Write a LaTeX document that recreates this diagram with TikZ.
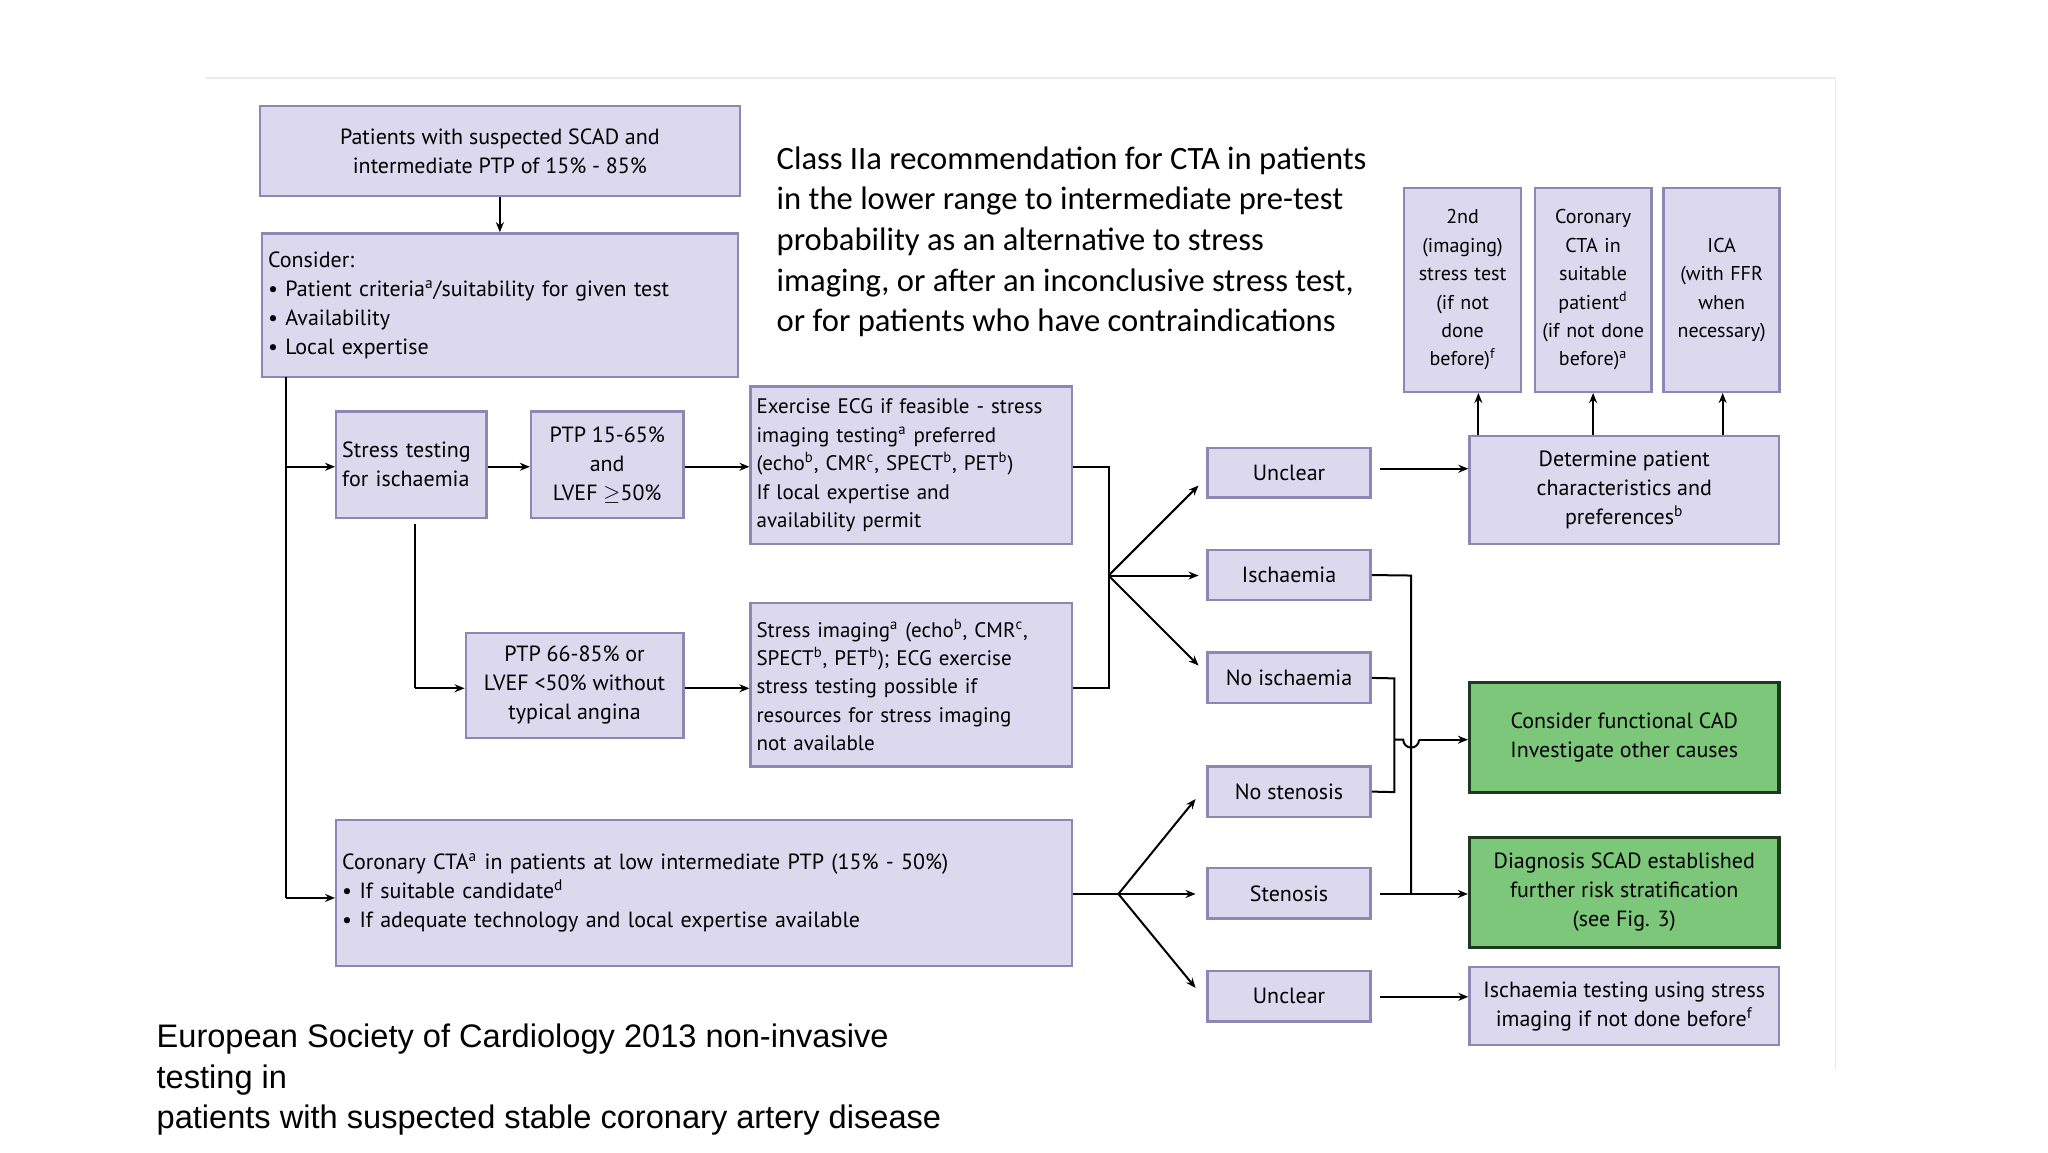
\documentclass[tikz,border=0pt]{standalone}
\usepackage{fontspec}
\setmainfont{PT Sans}
\newfontfamily\carfont{Carlito}
\newfontfamily\arifont{Liberation Sans}
\usetikzlibrary{arrows.meta}
\definecolor{boxfill}{HTML}{DCD9EE}
\definecolor{boxdraw}{HTML}{8D88B3}
\definecolor{grfill}{HTML}{7CC77A}
\definecolor{grdraw}{HTML}{1E3A1E}
\begin{document}
\begin{tikzpicture}[x=0.4945pt,y=-0.4945pt,
  box/.style={draw=boxdraw,fill=boxfill,line width=1.2pt,font=\fontsize{11}{14.5}\selectfont,align=center,inner sep=3pt},
  gbox/.style={box,fill=grfill,draw=grdraw,line width=1.6pt},
  ln/.style={line width=1pt,black},
  ar/.style={ln,-{Stealth[length=5pt,width=4pt]}}]
\useasboundingbox (0,0) rectangle (2071,1165);
\fill[white] (0,0) rectangle (2071,1165);
\draw[black!8,line width=0.8pt] (208,79) -- (1856,79) -- (1856,1082);
\newcommand\bx[7][box]{\node[#1,minimum width={(#4-#2)*0.4945pt},minimum height={(#5-#3)*0.4945pt}] (#7) at ({(#2+#4)/2},{(#3+#5)/2}) {#6};}
\newcommand\lbx[7][box]{\node[#1,align=left,text width={(#4-#2)*0.4945pt-8pt},minimum height={(#5-#3)*0.4945pt}] (#7) at ({(#2+#4)/2},{(#3+#5)/2}) {#6};}
\bx{263}{107}{748}{198}{Patients with suspected SCAD and\\intermediate PTP of 15\% - 85\%}{b1}
\lbx{263}{236}{748}{381}{Consider:\\• Patient criteria\textsuperscript{a}/suitability for given test\\• Availability\\• Local expertise}{cons}
\lbx{338}{416}{494}{524}{Stress testing\\for ischaemia\\[14pt]}{st}
\bx{537}{416}{691}{524}{PTP 15-65\%\\and\\LVEF $\geq$50\%}{p1}
\lbx[box,font=\fontsize{10.5}{14.2}\selectfont]{757}{391}{1086}{550}{Exercise ECG if feasible - stress\\imaging testing\textsuperscript{a} preferred\\(echo\textsuperscript{b}, CMR\textsuperscript{c}, SPECT\textsuperscript{b}, PET\textsuperscript{b})\\If local expertise and\\availability permit}{ex}
\bx{471}{640}{691}{746}{PTP 66-85\% or\\LVEF <50\% without\\typical angina}{p2}
\lbx[box,font=\fontsize{10.5}{14.2}\selectfont]{757}{610}{1086}{775}{Stress imaging\textsuperscript{a} (echo\textsuperscript{b}, CMR\textsuperscript{c},\\SPECT\textsuperscript{b}, PET\textsuperscript{b}); ECG exercise\\stress testing possible if\\resources for stress imaging\\not available}{si}
\lbx{338}{829}{1086}{977}{Coronary CTA\textsuperscript{a} in patients at low intermediate PTP (15\% - 50\%)\\• If suitable candidate\textsuperscript{d}\\• If adequate technology and local expertise available\\[14pt]}{cta}
\bx{1221}{453}{1386}{503}{Unclear}{u1}
\bx{1221}{556}{1386}{607}{Ischaemia}{is}
\bx{1221}{660}{1386}{711}{No ischaemia}{ni}
\bx{1221}{775}{1386}{826}{No stenosis}{ns}
\bx{1221}{878}{1386}{929}{Stenosis}{sn}
\bx{1221}{982}{1386}{1033}{Unclear}{u2}
\tikzset{tall/.style={box,font=\fontsize{10}{14.2}\selectfont,minimum height={206*0.4945pt},text width=56pt,anchor=north,inner sep=1pt}}
\node[tall,minimum width={118*0.4945pt}] (t1) at (1479,189) {2nd\\(imaging)\\stress test\\(if not\\done\\before)\textsuperscript{f}};
\node[tall,minimum width={118*0.4945pt}] (t2) at (1611,189) {Coronary\\CTA in\\suitable\\patient\textsuperscript{d}\\(if not done\\before)\textsuperscript{a}};
\node[tall,minimum width={116*0.4945pt}] (t3) at (1741,189) {ICA\\(with FFR\\when\\necessary)\\[43pt]};
\bx{1486}{441}{1799}{550}{Determine patient\\characteristics and\\preferences\textsuperscript{b}}{det}
\bx[gbox]{1486}{690}{1799}{801}{Consider functional CAD\\Investigate other causes}{cad}
\bx[gbox]{1486}{847}{1799}{958}{Diagnosis SCAD established\\further risk stratification\\(see Fig. 3)}{dia}
\bx{1486}{978}{1799}{1057}{Ischaemia testing using stress\\imaging if not done before\textsuperscript{f}}{itst}
% text
\node[anchor=north west,align=left,font=\carfont\fontsize{16.3}{20.3}\selectfont,inner sep=0pt] (cls) at (785,148) {Class IIa recommendation for CTA in patients\\in the lower range to intermediate pre-test\\probability as an alternative to stress\\imaging, or after an inconclusive stress test,\\or for patients who have contraindications};
\node[anchor=north west,align=left,font=\arifont\fontsize{16.3}{20.3}\selectfont,inner sep=0pt] (cap) at (158,1035) {European Society of Cardiology 2013 non-invasive\\testing in\\patients with suspected stable coronary artery disease};
% connectors
\draw[ar] (b1.south) -- (cons.north);
\coordinate (L0) at (289,381);
\draw[ln] (L0) -- (289,908);
\draw[ar] (289,472) -- (st.west|-0,472);
\draw[ar] (289,908) -- (cta.west|-0,908);
\draw[ar] (st.east|-0,472) -- (p1.west|-0,472);
\draw[ar] (p1.east|-0,472) -- (ex.west|-0,472);
\draw[ln] (420,530) -- (420,696);
\draw[ar] (420,696) -- (p2.west|-0,696);
\draw[ar] (p2.east|-0,696) -- (si.west|-0,696);
\coordinate (F1) at (1121,582);
\draw[ln] (ex.east|-0,472) -- (1121,472) -- (1121,696) -- (si.east|-0,696);
\draw[ar] (F1) -- (1212,491);
\draw[ar] (F1) -- (1212,582);
\draw[ar] (F1) -- (1212,673);
\coordinate (F2) at (1131,904);
\draw[ln] (cta.east|-0,904) -- (F2);
\draw[ar] (F2) -- (1209,808);
\draw[ar] (F2) -- (1209,904);
\draw[ar] (F2) -- (1209,999);
\draw[ar] (1395,474) -- (det.west|-0,474);
\draw[ar] (1395,1008) -- (itst.west|-0,1008);
\draw[ar] (det.north-|1495,0) -- (t1.south-|1495,0);
\draw[ar] (det.north-|1611,0) -- (t2.south-|1611,0);
\draw[ar] (det.north-|1742,0) -- (t3.south-|1742,0);
\draw[ln] (is.east) -- (1427,582) -- (1427,904);
\draw[ar] (1395,904) -- (dia.west|-0,904);
\draw[ln] (ni.east) -- (1410,686) -- (1410,801) -- (ns.east);
\draw[ln] (1410,748) -- (1419,748) arc[start angle=180,end angle=0,radius=8];
\draw[ar] (1435,748) -- (cad.west|-0,748);
\end{tikzpicture}
\end{document}
